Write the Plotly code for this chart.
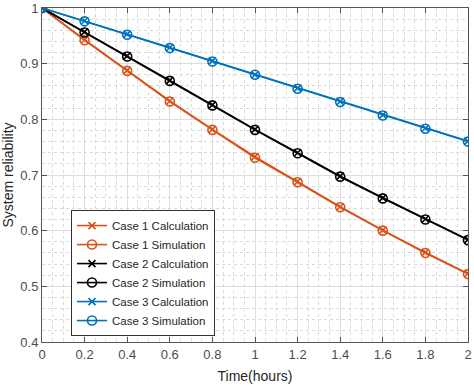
import plotly.graph_objects as go

time_h = [0, 0.2, 0.4, 0.6, 0.8, 1.0, 1.2, 1.4, 1.6, 1.8, 2.0]
case1_calc = [1.0, 0.943, 0.888, 0.833, 0.782, 0.733, 0.688, 0.643, 0.601, 0.561, 0.523]
case1_sim = [1.0, 0.942, 0.887, 0.832, 0.781, 0.731, 0.687, 0.642, 0.600, 0.560, 0.522]
case2_calc = [1.0, 0.957, 0.914, 0.870, 0.826, 0.782, 0.740, 0.698, 0.659, 0.621, 0.584]
case2_sim = [1.0, 0.956, 0.913, 0.869, 0.825, 0.781, 0.739, 0.697, 0.658, 0.620, 0.583]
case3_calc = [1.0, 0.977, 0.953, 0.929, 0.905, 0.880, 0.856, 0.832, 0.808, 0.784, 0.761]
case3_sim = [1.0, 0.976, 0.952, 0.928, 0.904, 0.880, 0.855, 0.831, 0.807, 0.783, 0.760]

names = ["Case 1 Calculation", "Case 1 Simulation", "Case 2 Calculation",
         "Case 2 Simulation", "Case 3 Calculation", "Case 3 Simulation"]
series = [case1_calc, case1_sim, case2_calc, case2_sim, case3_calc, case3_sim]
colors = ["#D95319", "#D95319", "#000000", "#000000", "#0072BD", "#0072BD"]
symbols = ["x-thin", "circle-open", "x-thin", "circle-open", "x-thin", "circle-open"]

fig = go.Figure()
for name, ys, c, s in zip(names, series, colors, symbols):
    fig.add_trace(go.Scatter(
        x=time_h, y=ys, name=name, mode="lines+markers",
        line=dict(color=c, width=1.6),
        marker=dict(symbol=s, size=9 if "circle" in s else 7,
                    color=c, line=dict(color=c, width=1.6)),
    ))

axis_common = dict(
    showline=True, linecolor="#555555", linewidth=1, mirror="ticks",
    ticks="inside", ticklen=5, tickcolor="#555555",
    showgrid=True, gridcolor="#dcdcdc", gridwidth=1,
    zeroline=False, automargin=False, ticklabeloverflow="allow",
    tickfont=dict(family="Liberation Sans, Arial", size=13, color="#4d4d4d"),
)

fig.update_layout(
    width=474, height=385,
    margin=dict(l=42, r=6, t=8, b=43),
    paper_bgcolor="white", plot_bgcolor="white",
    font=dict(family="Liberation Sans, Arial", size=12, color="#262626"),
    xaxis=dict(range=[0, 2], dtick=0.2, tickformat="~g",
               title=dict(text="Time(hours)", standoff=10,
                          font=dict(size=14, color="#262626")),
               minor=dict(dtick=0.05, showgrid=True, gridcolor="#d9d9d9",
                          griddash="dot", gridwidth=1),
               **axis_common),
    yaxis=dict(range=[0.4, 1.0], dtick=0.1, tickformat="~g",
               title=dict(text="System reliability", standoff=4,
                          font=dict(size=14, color="#262626")),
               minor=dict(dtick=0.02, showgrid=True, gridcolor="#d9d9d9",
                          griddash="dot", gridwidth=1),
               **axis_common),
    legend=dict(x=0.068, y=0.395, xanchor="left", yanchor="top",
                bgcolor="white", bordercolor="#333333", borderwidth=1,
                font=dict(size=11.5, color="#262626"),
                tracegroupgap=0, itemwidth=30),
    showlegend=True,
)

fig.write_html("out.html", config={"displayModeBar": False},
               post_script="document.body.style.margin='0';")
